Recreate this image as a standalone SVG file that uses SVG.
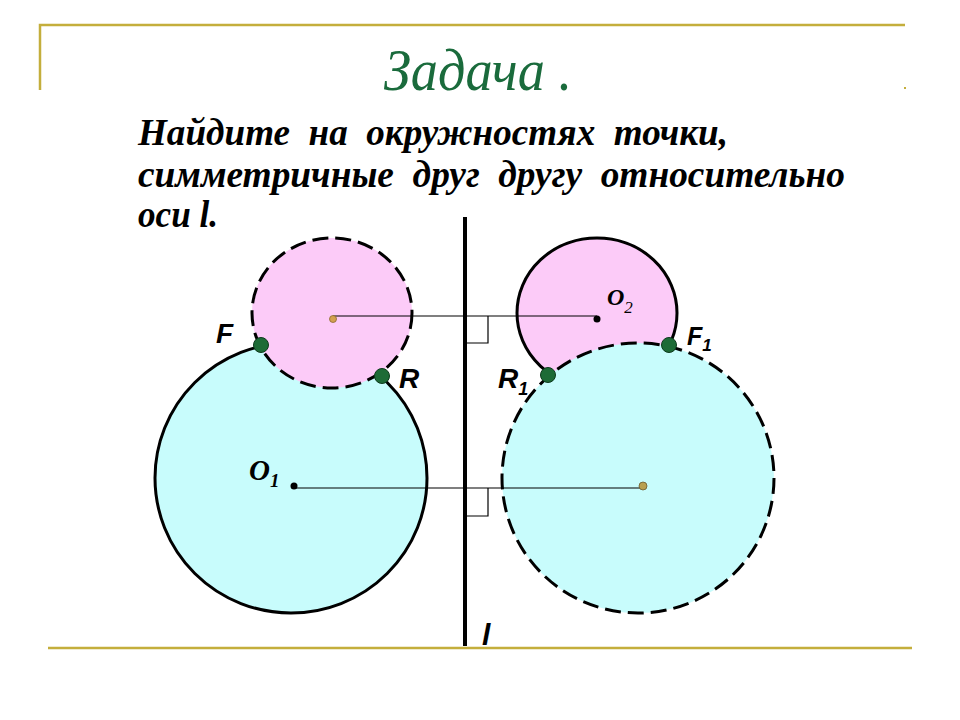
<svg xmlns="http://www.w3.org/2000/svg" width="960" height="720" viewBox="0 0 960 720">
<style>
.frame{stroke:#c4ae3c;stroke-width:2.5;fill:none}
.pink{fill:#fccbf8}
.blue{fill:#c8fcfc}
.solid{stroke:#000;stroke-width:3}
.dash{stroke:#000;stroke-width:3;stroke-dasharray:16 7}
.thin{stroke:#000;stroke-width:1.2;fill:none}
.pt{fill:#1d6b36;stroke:#0d3a1c;stroke-width:1}
.lbl{font-family:"Liberation Sans",Arial,sans-serif;font-weight:bold;font-style:italic;fill:#000}
.olbl{font-family:"Liberation Serif","DejaVu Serif",serif;font-weight:bold;font-style:italic;fill:#000}
.body{font-family:"Liberation Serif","DejaVu Serif",serif;font-weight:bold;font-style:italic;font-size:37px;fill:#000}
.ttl{font-family:"Liberation Serif","DejaVu Serif",serif;font-style:italic;font-size:60px;fill:#1a6b3c}
</style>
<rect width="960" height="720" fill="#fff"/>
<g id="frame">
<path class="frame" d="M40,90 V25 H905"/>
<rect x="904" y="87" width="2" height="2" fill="#c4ae3c"/>
<line class="frame" x1="48" y1="648" x2="912" y2="648"/>
</g>
<g id="title">
<text class="ttl" x="384" y="90" textLength="188" lengthAdjust="spacingAndGlyphs">Задача .</text>
</g>
<g id="task">
<text class="body" x="138" y="145" textLength="590" lengthAdjust="spacingAndGlyphs" xml:space="preserve">Найдите  на  окружностях  точки,</text>
<text class="body" x="138" y="187" textLength="707" lengthAdjust="spacingAndGlyphs" xml:space="preserve">симметричные  друг  другу  относительно</text>
<text class="body" x="138" y="227" textLength="80" lengthAdjust="spacingAndGlyphs">оси l.</text>
</g>
<g id="circle-O1">
<ellipse class="blue solid" cx="291" cy="478" rx="136" ry="135"/>
</g>
<g id="circle-left-small">
<ellipse class="pink dash" cx="332" cy="313" rx="80" ry="75"/>
</g>
<g id="circle-O2">
<ellipse class="pink solid" cx="597" cy="313" rx="80" ry="75"/>
</g>
<g id="circle-right-big">
<ellipse class="blue dash" cx="638" cy="478" rx="136" ry="135"/>
</g>
<g id="connectors">
<line class="thin" x1="333" y1="316" x2="597" y2="316"/>
<line class="thin" x1="294" y1="488" x2="643" y2="488"/>
<path class="thin" d="M465,343 H488 V316"/>
<path class="thin" d="M465,516 H488 V488"/>
</g>
<g id="axis-l">
<line x1="465" y1="217" x2="465" y2="646" stroke="#000" stroke-width="4"/>
<text class="lbl" x="482" y="645" font-size="30">l</text>
</g>
<g id="centers">
<circle cx="333" cy="319" r="3.5" fill="#d4a050" stroke="#8a6a30" stroke-width="0.8"/>
<circle cx="597" cy="319" r="3.5" fill="#000"/>
<circle cx="294" cy="486" r="3.5" fill="#000"/>
<circle cx="643" cy="486" r="4" fill="#b8a050" stroke="#6a5a30" stroke-width="0.8"/>
<text class="olbl" x="607" y="305" font-size="24">O<tspan font-size="17" dy="8" font-weight="normal">2</tspan></text>
<text class="olbl" x="249" y="480" font-size="29">O<tspan font-size="19" dy="7">1</tspan></text>
</g>
<g id="point-F">
<circle class="pt" cx="261" cy="345" r="7.5"/>
<text class="lbl" x="216" y="343" font-size="28">F</text>
</g>
<g id="point-R">
<circle class="pt" cx="382" cy="376" r="7.5"/>
<text class="lbl" x="399" y="388" font-size="28">R</text>
</g>
<g id="point-R1">
<circle class="pt" cx="548" cy="375" r="7.5"/>
<text class="lbl" x="498" y="388" font-size="28">R<tspan font-size="18" dy="7">1</tspan></text>
</g>
<g id="point-F1">
<circle class="pt" cx="669" cy="345" r="7.5"/>
<text class="lbl" x="687" y="345" font-size="25">F<tspan font-size="17" dy="6">1</tspan></text>
</g>
</svg>
